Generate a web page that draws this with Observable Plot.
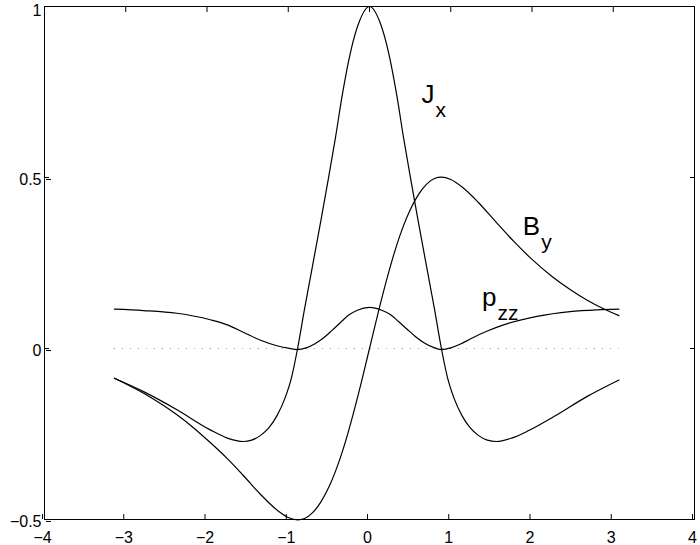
<!DOCTYPE html>
<html><head><meta charset="utf-8">
<script src="https://cdn.jsdelivr.net/npm/d3@7"></script>
<script src="https://cdn.jsdelivr.net/npm/@observablehq/plot@0.6"></script>
<style>body{margin:0;background:#fff} svg{display:block}</style>
</head><body><div id="chart"></div>
<script>
// J_x
const jxX = [-3.14, -2.78, -2.37, -1.96, -1.75, -1.55, -1.45, -1.34, -1.24, -1.14, -1.04, -0.96, -0.885, -0.8, -0.7, -0.6, -0.5, -0.42, -0.336, -0.234, -0.13, 0,
             0.13, 0.234, 0.336, 0.42, 0.5, 0.6, 0.7, 0.8, 0.885, 0.96, 1.04, 1.14, 1.24, 1.34, 1.45, 1.56, 1.75, 1.96, 2.27, 2.68, 3.07];
const jxY = [-0.087, -0.126, -0.179, -0.238, -0.262, -0.272, -0.268, -0.254, -0.232, -0.197, -0.145, -0.085, 0.0, 0.115, 0.243, 0.372, 0.505, 0.615, 0.74, 0.866, 0.953, 1.0,
             0.953, 0.866, 0.74, 0.615, 0.505, 0.372, 0.243, 0.115, 0.0, -0.085, -0.145, -0.197, -0.232, -0.254, -0.268, -0.272, -0.262, -0.24, -0.199, -0.140, -0.092];
// B_y
const byX = [-3.14, -2.78, -2.37, -2.16, -1.96, -1.75, -1.55, -1.34, -1.14, -1.0, -0.885, -0.8, -0.7, -0.6, -0.5, -0.42, -0.336, -0.26, -0.13, 0,
             0.13, 0.26, 0.336, 0.42, 0.5, 0.6, 0.7, 0.8, 0.885, 1.0, 1.14, 1.34, 1.56, 1.776, 1.98, 2.25, 2.46, 2.68, 2.88, 3.07];
const byY = [-0.087, -0.131, -0.194, -0.233, -0.275, -0.322, -0.372, -0.427, -0.472, -0.494, -0.501, -0.497, -0.48, -0.449, -0.405, -0.36, -0.303, -0.243, -0.127, 0,
             0.127, 0.243, 0.303, 0.36, 0.405, 0.449, 0.48, 0.497, 0.501, 0.494, 0.472, 0.427, 0.369, 0.313, 0.265, 0.21, 0.174, 0.141, 0.116, 0.096];
// p_zz
const pzX = [-3.14, -2.78, -2.37, -1.96, -1.75, -1.55, -1.34, -1.14, -1.0, -0.885, -0.78, -0.67, -0.56, -0.46, -0.357, -0.26, -0.15, 0,
             0.15, 0.26, 0.357, 0.46, 0.56, 0.67, 0.78, 0.885, 1.0, 1.12, 1.24, 1.45, 1.65, 2.06, 2.47, 2.8, 3.07];
const pzY = [0.115, 0.111, 0.103, 0.084, 0.069, 0.047, 0.024, 0.008, 0.001, -0.003, 0.002, 0.014, 0.032, 0.053, 0.076, 0.097, 0.112, 0.12,
             0.112, 0.099, 0.079, 0.057, 0.036, 0.017, 0.004, -0.003, 0.002, 0.013, 0.028, 0.051, 0.069, 0.094, 0.108, 0.113, 0.115];

const labelMain = ["J", "B", "p"];
const labelSub = ["x", "y", "zz"];
const labelX = [0.64, 1.887, 1.385];
const labelY = [0.7175, 0.3325, 0.1254];

const xTicks = [-4, -3, -2, -1, 0, 1, 2, 3, 4];
const xTickLabels = ["\u22124", "\u22123", "\u22122", "\u22121", "0", "1", "2", "3", "4"];
const yTicks = [-0.5, 0, 0.5, 1];
const yTickLabels = ["\u22120.5", "0", "0.5", "1"];

const zeroLineX = [-3.14, 3.07];
const zeroDotColors = ["#6060ff", "#ff6060", "#40c0c0", "#60b060", "#c0c040", "#c060c0"];

const series = [[jxX, jxY], [byX, byY], [pzX, pzY]];
const lines = series.map(([xs, ys]) => xs.map((x, i) => ({x, y: ys[i]})));
const labels = labelMain.map((m, i) => ({main: m, sub: labelSub[i], x: labelX[i], y: labelY[i]}));

const font = "Liberation Sans, Arial, Helvetica, sans-serif";
const axisStyle = {fontSize: 16, fontFamily: font, label: null, tickSize: -5};
const chart = Plot.plot({
  width: 700, height: 545,
  marginLeft: 44, marginRight: 6, marginTop: 6, marginBottom: 26,
  style: {fontFamily: font, fontSize: "16px", color: "black", background: "white"},
  x: {domain: [-4, 4]},
  y: {domain: [-0.5, 1]},
  marks: [
    ...zeroDotColors.map((c, i) => Plot.ruleY([0], {
      x1: zeroLineX[0], x2: zeroLineX[1], stroke: c, strokeWidth: 1,
      strokeDasharray: "1 47", strokeDashoffset: -i * 8
    })),
    ...lines.map(d => Plot.line(d, {x: "x", y: "y", stroke: "black", strokeWidth: 1.2, curve: "monotone-x"})),
    Plot.frame({stroke: "black", strokeWidth: 1}),
    Plot.axisX(xTicks, {...axisStyle, anchor: "bottom", tickPadding: 17, dx: -2,
      tickFormat: d => xTickLabels[xTicks.indexOf(d)]}),
    Plot.axisX(xTicks, {...axisStyle, anchor: "top", tickFormat: () => ""}),
    Plot.axisY(yTicks.slice(0, 3), {...axisStyle, anchor: "left", tickPadding: 10, dy: 2, dx: 2,
      tickFormat: d => yTickLabels[yTicks.indexOf(d)]}),
    Plot.axisY(yTicks.slice(3), {...axisStyle, anchor: "left", tickSize: 0, tickPadding: 5, dy: 4, dx: 2,
      tickFormat: d => yTickLabels[yTicks.indexOf(d)]}),
    Plot.axisY(yTicks, {...axisStyle, anchor: "left", tickFormat: () => ""}),
    Plot.axisY(yTicks, {...axisStyle, anchor: "right", tickFormat: () => ""}),
    Plot.text(labels, {x: "x", y: "y", text: "main", textAnchor: "start", lineAnchor: "bottom",
      fontSize: 26, fontFamily: font, fill: "black"})
  ]
});
document.getElementById("chart").appendChild(chart);

// add subscripts to the curve labels
d3.select(chart).selectAll('g[aria-label="text"] text').each(function(_, i) {
  if (!labels[i]) return;
  d3.select(this).append("tspan")
    .attr("dx", 1).attr("dy", 14).attr("font-size", 21)
    .text(labels[i].sub);
});
</script>
</body></html>
